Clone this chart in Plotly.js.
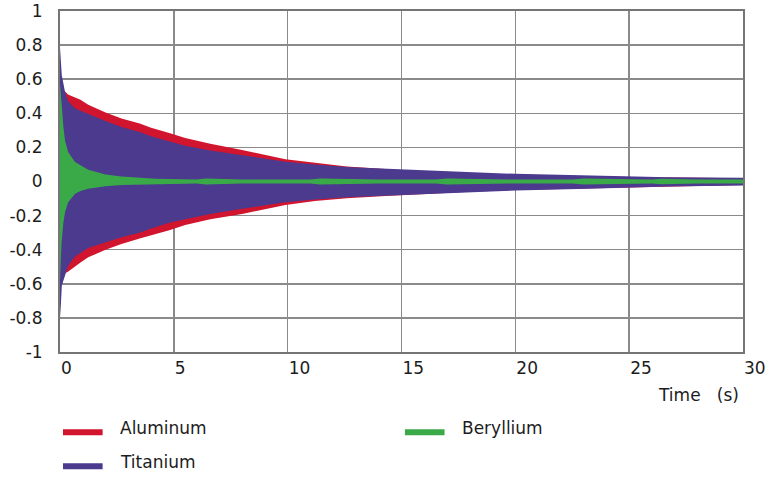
<!DOCTYPE html>
<html>
<head>
<meta charset="utf-8">
<script src="https://cdn.plot.ly/plotly-3.0.1.min.js"></script>
<style>html,body{margin:0;padding:0;background:#fff;}#chart{width:768px;height:480px;}</style>
</head>
<body>
<div id="chart"></div>
<script>
// ---- Data (envelopes of the decaying oscillations) ----
const seriesNames = ["Aluminum", "Titanium", "Beryllium"];
const seriesColors = ["#d2152e", "#4b3a8e", "#3aaa48"];

// Aluminum (red)
const alTime  = [0, 0.2, 0.35, 0.9, 1.24, 2.0, 2.7, 3.5, 4.0, 4.8, 5.5, 6.6, 8.0, 9.9, 11.2, 12.6, 14.1, 15.0, 16.0, 18.0, 20.0, 25.0, 30.0];
const alUpper = [0.56, 0.53, 0.51, 0.48, 0.45, 0.405, 0.37, 0.34, 0.315, 0.285, 0.255, 0.222, 0.185, 0.13, 0.108, 0.088, 0.075, 0.066, 0.058, 0.048, 0.04, 0.026, 0.019];
const alLower = [-0.56, -0.54, -0.53, -0.475, -0.445, -0.40, -0.367, -0.335, -0.315, -0.286, -0.255, -0.222, -0.19, -0.138, -0.115, -0.098, -0.086, -0.08, -0.072, -0.06, -0.05, -0.034, -0.021];

// Titanium (purple)
const tiTime  = [0, 0.04, 0.08, 0.15, 0.22, 0.36, 0.66, 0.9, 1.24, 2.0, 2.7, 3.5, 4.0, 4.8, 5.5, 6.6, 8.0, 9.9, 11.2, 12.6, 14.1, 15.0, 16.8, 20.0, 23.2, 25.0, 26.7, 30.0];
const tiUpper = [0.785, 0.72, 0.62, 0.575, 0.525, 0.47, 0.43, 0.415, 0.395, 0.355, 0.32, 0.29, 0.265, 0.235, 0.21, 0.182, 0.155, 0.116, 0.099, 0.085, 0.076, 0.07, 0.061, 0.045, 0.035, 0.029, 0.025, 0.022];
const tiLower = [-0.80, -0.72, -0.61, -0.58, -0.553, -0.494, -0.44, -0.42, -0.39, -0.357, -0.327, -0.30, -0.275, -0.242, -0.222, -0.19, -0.16, -0.122, -0.106, -0.092, -0.082, -0.078, -0.069, -0.053, -0.043, -0.037, -0.029, -0.024];

// Beryllium (green)
const beTime  = [0, 0.04, 0.07, 0.15, 0.22, 0.36, 0.66, 0.9, 1.24, 2.0, 2.7, 4.2, 6.0, 6.4, 8.0, 11.0, 11.4, 14.0, 16.5, 17.0, 20.0, 22.5, 23.0, 26.0, 26.4, 28.0, 30.0];
const beUpper = [0.575, 0.50, 0.437, 0.32, 0.24, 0.172, 0.114, 0.095, 0.069, 0.041, 0.029, 0.016, 0.012, 0.017, 0.011, 0.012, 0.017, 0.011, 0.012, 0.017, 0.011, 0.011, 0.017, 0.011, 0.016, 0.011, 0.011];
const beLower = [-0.59, -0.45, -0.357, -0.24, -0.18, -0.122, -0.072, -0.055, -0.043, -0.028, -0.02, -0.015, -0.012, -0.017, -0.011, -0.012, -0.017, -0.011, -0.012, -0.017, -0.011, -0.011, -0.017, -0.011, -0.016, -0.011, -0.011];

// Axis ticks
const xTickVals = [0, 5, 10, 15, 20, 25, 30];
const xTickText = ["0", "5", "10", "15", "20", "25", "30"];
const yTickVals = [1, 0.8, 0.6, 0.4, 0.2, 0, -0.2, -0.4, -0.6, -0.8, -1];
const yTickText = ["1", "0.8", "0.6", "0.4", "0.2", "0", "-0.2", "-0.4", "-0.6", "-0.8", "-1"];
const xAxisTitle = "Time\u00a0\u00a0\u00a0(s)";

// ---- Build traces ----
function band(name, color, t, up, lo) {
  const xs = t.concat(t.slice().reverse());
  const ys = up.concat(lo.slice().reverse());
  return {
    type: "scatter", mode: "lines", name: name,
    x: xs, y: ys, fill: "toself", fillcolor: color,
    line: {width: 0, color: color}, hoverinfo: "skip", showlegend: false
  };
}
const traces = [
  band(seriesNames[0], seriesColors[0], alTime, alUpper, alLower),
  band(seriesNames[1], seriesColors[1], tiTime, tiUpper, tiLower),
  band(seriesNames[2], seriesColors[2], beTime, beUpper, beLower)
];

// ---- Legend (shapes + text) ----
const font = "DejaVu Sans, Verdana, sans-serif";
const textColor = "#1c1c1c";
const legendItems = [
  {name: seriesNames[0], color: seriesColors[0], x0: 0.0044, y: -0.235},
  {name: seriesNames[2], color: seriesColors[2], x0: 0.505, y: -0.235},
  {name: seriesNames[1], color: seriesColors[1], x0: 0.0044, y: -0.335}
];
const shapes = legendItems.map(it => ({
  type: "line", xref: "paper", yref: "paper",
  x0: it.x0, x1: it.x0 + 0.058, y0: it.y, y1: it.y,
  line: {color: it.color, width: 6}
}));
const annotations = legendItems.map(it => ({
  xref: "paper", yref: "paper", x: it.x0 + 0.08, y: it.y + 0.012,
  xanchor: "left", yanchor: "middle", showarrow: false,
  text: it.name, font: {family: font, size: 17, color: textColor}
}));
annotations.push({
  xref: "paper", yref: "paper", x: 0.997, y: -0.126, xanchor: "right", yanchor: "middle",
  showarrow: false, text: xAxisTitle, font: {family: font, size: 17, color: textColor}
});

const layout = {
  width: 768, height: 480,
  margin: {l: 60, r: 25, t: 11, b: 128},
  paper_bgcolor: "#fff", plot_bgcolor: "#fff",
  showlegend: false,
  font: {family: font, size: 17, color: textColor},
  xaxis: {
    range: [0, 30], tickvals: xTickVals, ticktext: xTickText,
    showgrid: true, gridcolor: "#8a8a8a", gridwidth: 1.5,
    showline: true, linecolor: "#757575", linewidth: 2, mirror: true,
    zeroline: false, ticks: "", ticklabelposition: "outside right",
    tickfont: {family: font, size: 17, color: textColor}
  },
  yaxis: {
    range: [-1, 1], tickvals: yTickVals, ticktext: yTickText,
    showgrid: true, gridcolor: "#8a8a8a", gridwidth: 1.5,
    showline: true, linecolor: "#757575", linewidth: 2, mirror: true,
    zeroline: false, ticks: "", ticklabelstandoff: 12,
    tickfont: {family: font, size: 17, color: textColor}
  },
  shapes: shapes,
  annotations: annotations
};

Plotly.newPlot("chart", traces, layout, {staticPlot: true, displayModeBar: false});
</script>
</body>
</html>
